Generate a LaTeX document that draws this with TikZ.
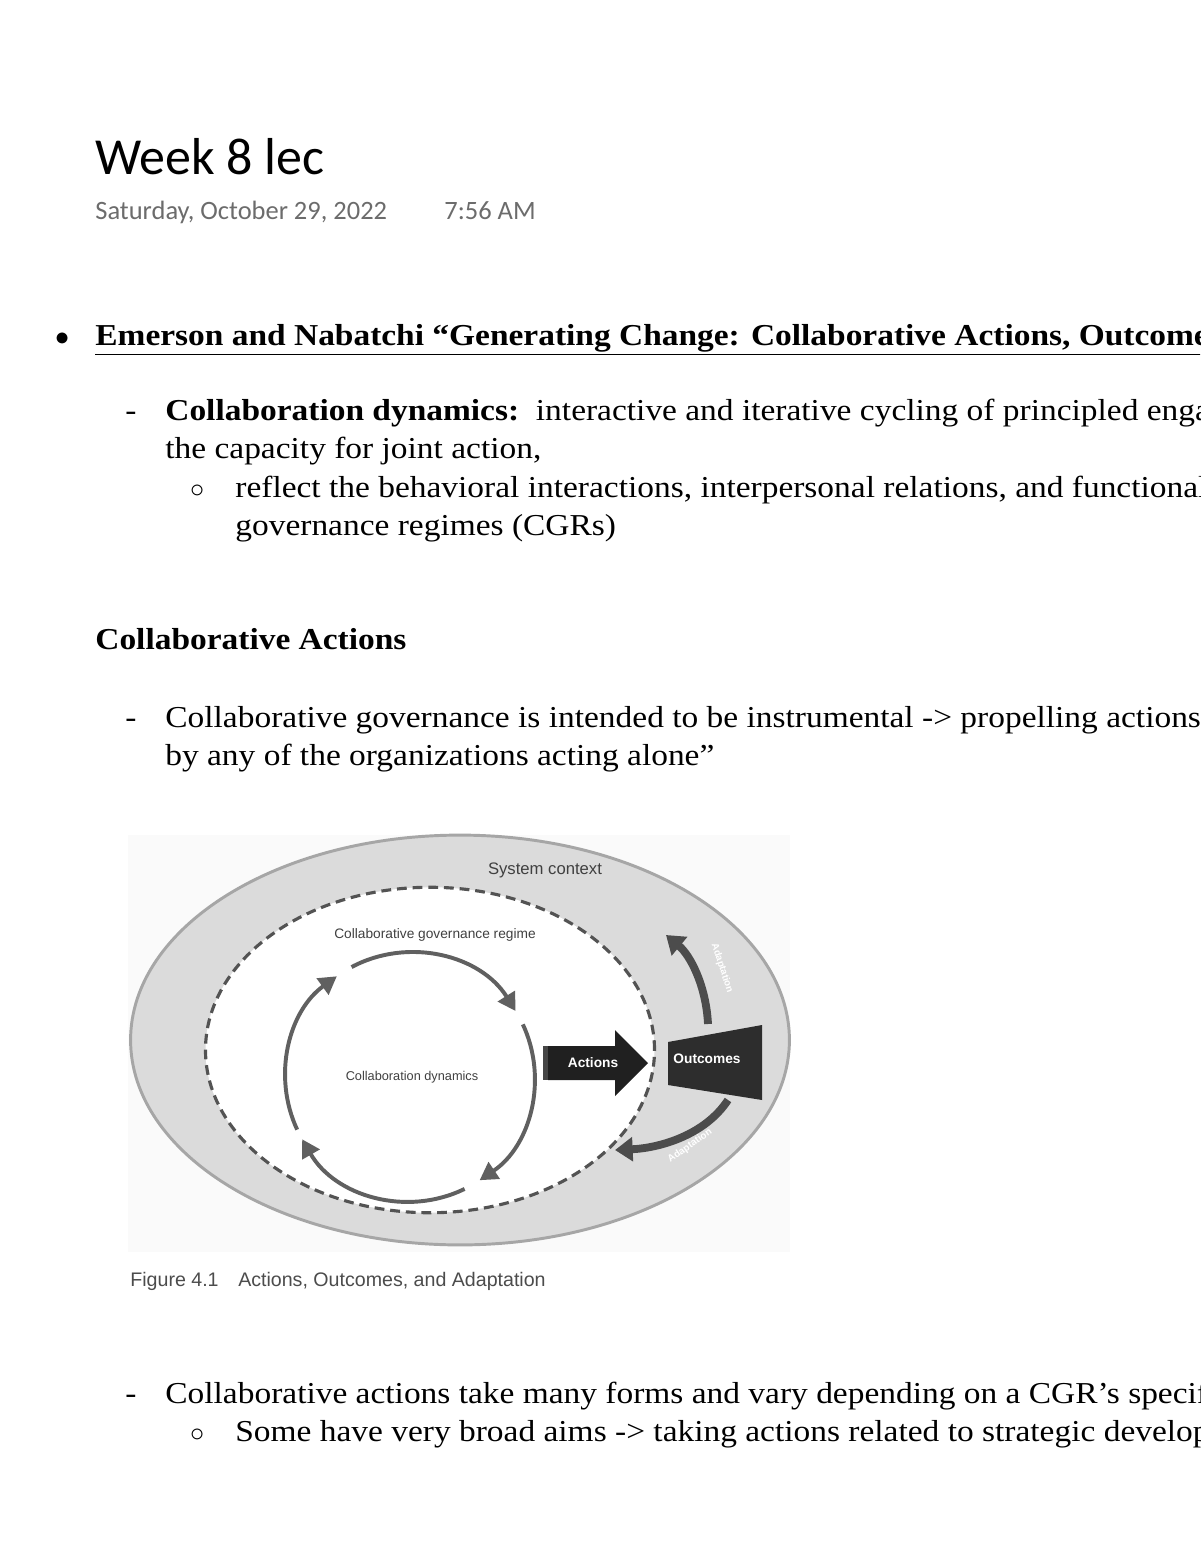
\documentclass[tikz,border=0pt]{standalone}
\usepackage{fontspec}
\setmainfont{Liberation Serif}[FakeStretch=1.1]
\newfontfamily\calib{Carlito}
\newfontfamily\figf{Liberation Sans}
\usetikzlibrary{arrows.meta,shapes.geometric}
\begin{document}
\begin{tikzpicture}[x=0.51pt,y=-0.51pt,
  txt/.style={anchor=base west,inner sep=0pt,font=\fontsize{15.5}{18}\selectfont},
  cyc/.style={draw=gray!75!black,line width=2pt,-{Triangle[length=9pt,width=10pt]}},
  adapt/.style={draw=gray!60!black,line width=4pt,-{Triangle[length=9pt,width=12pt]}}]
\useasboundingbox (0,0) rectangle (1200,1553);
\clip (0,0) rectangle (1200,1553);
\fill[white] (0,0) rectangle (1200,1553);
% header
\node[txt,font=\calib\fontsize{26.5}{30}\selectfont] (title) at (95,175) {Week 8 lec};
\node[txt,font=\calib\fontsize{13.5}{16}\selectfont,text=gray!85!black] (date) at (95,220) {Saturday, October 29, 2022};
\node[txt,font=\calib\fontsize{13.5}{16}\selectfont,text=gray!85!black] (time) at (444,220) {7:56 AM};
% body
\node[txt] (b1) at (55,345) {$\bullet$};
\node[txt] (l1) at (95,345) {\textbf{\underline{Emerson and Nabatchi “Generating Change: Collaborative Actions, Outcomes, and Adaptation”}}};
\node[txt] (d1) at (125,420) {-};
\node[txt] (l2) at (165,420) {\textbf{Collaboration dynamics:}\ \ interactive and iterative cycling of principled engagement, shared motivation, and};
\node[txt] (l3) at (165,458) {the capacity for joint action,};
\node[txt] (o1) at (190,497) {$\circ$};
\node[txt] (l4) at (235,497) {reflect the behavioral interactions, interpersonal relations, and functional dynamics of collaborative};
\node[txt] (l5) at (235,535) {governance regimes (CGRs)};
\node[txt] (h2) at (95,649) {\textbf{Collaborative Actions}};
\node[txt] (d2) at (125,727) {-};
\node[txt] (l6) at (165,727) {Collaborative governance is intended to be instrumental -> propelling actions “that could not be attained};
\node[txt] (l7) at (165,765) {by any of the organizations acting alone”};
\node[txt] (d3) at (125,1403) {-};
\node[txt] (l8) at (165,1403) {Collaborative actions take many forms and vary depending on a CGR’s specific purpose};
\node[txt] (o2) at (190,1441) {$\circ$};
\node[txt] (l9) at (235,1441) {Some have very broad aims -> taking actions related to strategic development};
% figure
\fill[gray!4] (128,835) rectangle (790,1252);
\draw[fill=gray!28,draw=gray!70,line width=1.5pt] (460,1040) ellipse [x radius=168pt,y radius=104.5pt];
\fill[white] (430,1050) ellipse [x radius=114.5pt,y radius=83pt];
\draw[gray!65!black,dashed,line width=1.6pt,dash pattern=on 5pt off 3pt] (430,1050) ellipse [x radius=114.5pt,y radius=83pt];
\node[font=\figf\fontsize{8.5}{10}\selectfont,text=gray!50!black] (sc) at (545,870) {System context};
\node[font=\figf\fontsize{7}{9}\selectfont,text=gray!50!black] (cgr) at (435,935) {Collaborative governance regime};
\node[font=\figf\fontsize{6.5}{8}\selectfont,text=gray!50!black] (cd) at (412,1077) {Collaboration dynamics};
\coordinate (cc) at (410,1077);
\draw[cyc] (cc) ++(205:63.5pt) arc[start angle=205,end angle=126,radius=63.5pt];
\draw[cyc] (cc) ++(118:63.5pt) arc[start angle=118,end angle=32,radius=63.5pt];
\draw[cyc] (cc) ++(25:63.5pt) arc[start angle=25,end angle=-56,radius=63.5pt];
\draw[cyc] (cc) ++(-64:63.5pt) arc[start angle=-64,end angle=-150,radius=63.5pt];
% actions arrow
\fill[gray!55!black] (543,1046) rectangle (548,1080);
\fill[gray!25!black] (548,1046) -- (615,1046) -- (615,1030) -- (648,1063) -- (615,1096) -- (615,1080) -- (548,1080) -- cycle;
\node[font=\figf\bfseries\fontsize{7}{9}\selectfont,text=white] (act) at (593,1063) {Actions};
% outcomes
\fill[gray!35!black] (668,1042) -- (762,1025) -- (762,1100) -- (668,1085) -- cycle;
\node[font=\figf\bfseries\fontsize{7}{9}\selectfont,text=white] (out) at (707,1059) {Outcomes};
% adaptation arrows
\coordinate (ua) at (708,1024);
\coordinate (ue) at (666,935);
\draw[adapt] (ua) .. controls (706,985) and (690,955) .. (ue);
\node[rotate=-72,font=\figf\bfseries\fontsize{5}{6}\selectfont,text=white] (ad1) at (722,968) {Adaptation};
\coordinate (la) at (728,1100);
\coordinate (le) at (615,1150);
\draw[adapt] (la) .. controls (705,1135) and (660,1148) .. (le);
\node[rotate=35,font=\figf\bfseries\fontsize{5}{6}\selectfont,text=white] (ad2) at (690,1146) {Adaptation};
\node[txt,font=\figf\fontsize{10}{12}\selectfont,text=gray!60!black] (cap) at (130,1286) {Figure 4.1\quad Actions, Outcomes, and Adaptation};
\end{tikzpicture}
\end{document}
